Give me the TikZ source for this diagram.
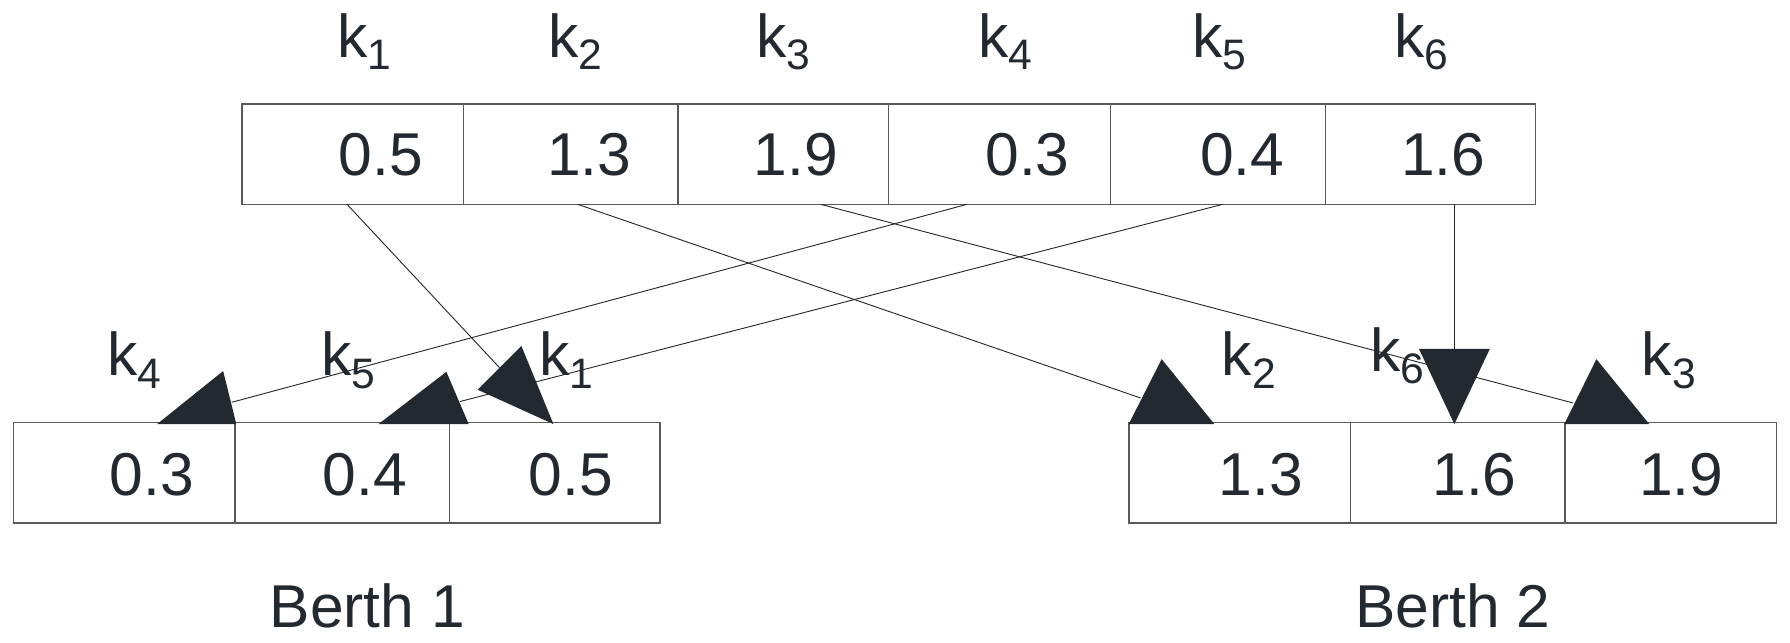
\documentclass[tikz,border=0pt]{standalone}
\usepackage{fontspec}
\setmainfont{Liberation Sans}
\definecolor{ink}{RGB}{35,41,48}
\newcommand{\kk}[1]{k\raisebox{-0.21em}{\fontsize{28}{30}\selectfont #1}}
\tikzset{
  txt/.style={anchor=base west,inner sep=0pt,text=ink,font=\fontsize{39.75}{48}\selectfont},
  cellline/.style={draw=black!65,line width=0.9pt},
  link/.style={draw=black!85,line width=0.6pt},
  head/.style={fill=ink,draw=none},
}
\begin{document}
\begin{tikzpicture}[x=0.75pt,y=0.75pt,yscale=-1,xscale=1]
\useasboundingbox (0,0) rectangle (1568,562.4);

%Shape: Rectangle [top row]
\draw [cellline] (212,91) rectangle (1345,179);
\foreach \x in {406,594,778.5,973,1161}
  \draw [cellline] (\x,91) -- (\x,179);
%Shape: Rectangle [berth 1]
\draw [cellline] (12,370) rectangle (578,458);
\foreach \x in {206,394}
  \draw [cellline] (\x,370) -- (\x,458);
%Shape: Rectangle [berth 2]
\draw [cellline] (989,370) rectangle (1556,458);
\foreach \x in {1183,1371}
  \draw [cellline] (\x,370) -- (\x,458);

%Connector ends
\coordinate (s1) at (304,179);
\coordinate (s2) at (506,179);
\coordinate (s3) at (719,179);
\coordinate (s4) at (847,179);
\coordinate (s5) at (1071,179);
\coordinate (s6) at (1274,179);
\coordinate (e1) at (437.5,322);
\coordinate (e2) at (999,348.6);
\coordinate (e3) at (1378,353);
\coordinate (e4) at (203,352.4);
\coordinate (e5) at (402.7,351.8);
\coordinate (e6) at (1274,306);

%Straight Lines
\draw [link] (s1) -- (e1);
\draw [link] (s2) -- (e2);
\draw [link] (s3) -- (e3);
\draw [link] (s4) -- (e4);
\draw [link] (s5) -- (e5);
\draw [link] (s6) -- (e6);

%Shape: Triangles
\fill [head] (195.5,325) -- (137.6,371.5) -- (207,371.5) -- cycle;
\fill [head] (391,325.7) -- (331.6,371.5) -- (410.6,371.5) -- cycle;
\fill [head] (456.7,303) -- (418.4,341.4) -- (484.8,371.5) -- cycle;
\fill [head] (1017.6,314.6) -- (988.7,371.5) -- (1063.8,371.5) -- cycle;
\fill [head] (1243,305.7) -- (1305,305.7) -- (1274,371.5) -- cycle;
\fill [head] (1398.4,314.6) -- (1370.3,371.5) -- (1444.7,371.5) -- cycle;

% Text Node [top keys]
\node [txt] (ka1) at (295,50) {\kk{1}};
\node [txt] (ka2) at (480,50) {\kk{2}};
\node [txt] (ka3) at (662.5,50) {\kk{3}};
\node [txt] (ka4) at (856.5,50) {\kk{4}};
\node [txt] (ka5) at (1044,50) {\kk{5}};
\node [txt] (ka6) at (1221,50) {\kk{6}};
% Text Node [top values]
\node [txt] (va1) at (296.5,154) {0.5};
\node [txt] (va2) at (479,154) {1.3};
\node [txt] (va3) at (660,154) {1.9};
\node [txt] (va4) at (863,154) {0.3};
\node [txt] (va5) at (1051,154) {0.4};
\node [txt] (va6) at (1227,154) {1.6};
% Text Node [berth keys]
\node [txt] (kb4) at (93.5,329) {\kk{4}};
\node [txt] (kb5) at (281,329) {\kk{5}};
\node [txt] (kb1) at (472.5,329) {\kk{1}};
\node [txt] (kb2) at (1070,329) {\kk{2}};
\node [txt] (kb6) at (1200,325) {\kk{6}};
\node [txt] (kb3) at (1438,329) {\kk{3}};
% Text Node [berth values]
\node [txt] (vb4) at (96,434) {0.3};
\node [txt] (vb5) at (282.6,434) {0.4};
\node [txt] (vb1) at (463,434) {0.5};
\node [txt] (vb2) at (1067.5,434) {1.3};
\node [txt] (vb6) at (1254.5,434) {1.6};
\node [txt] (vb3) at (1435.6,434) {1.9};
% Text Node [berth names]
\node [txt] (berth1) at (236,549.5) {Berth 1};
\node [txt] (berth2) at (1187,549.5) {Berth 2};

\end{tikzpicture}
\end{document}
